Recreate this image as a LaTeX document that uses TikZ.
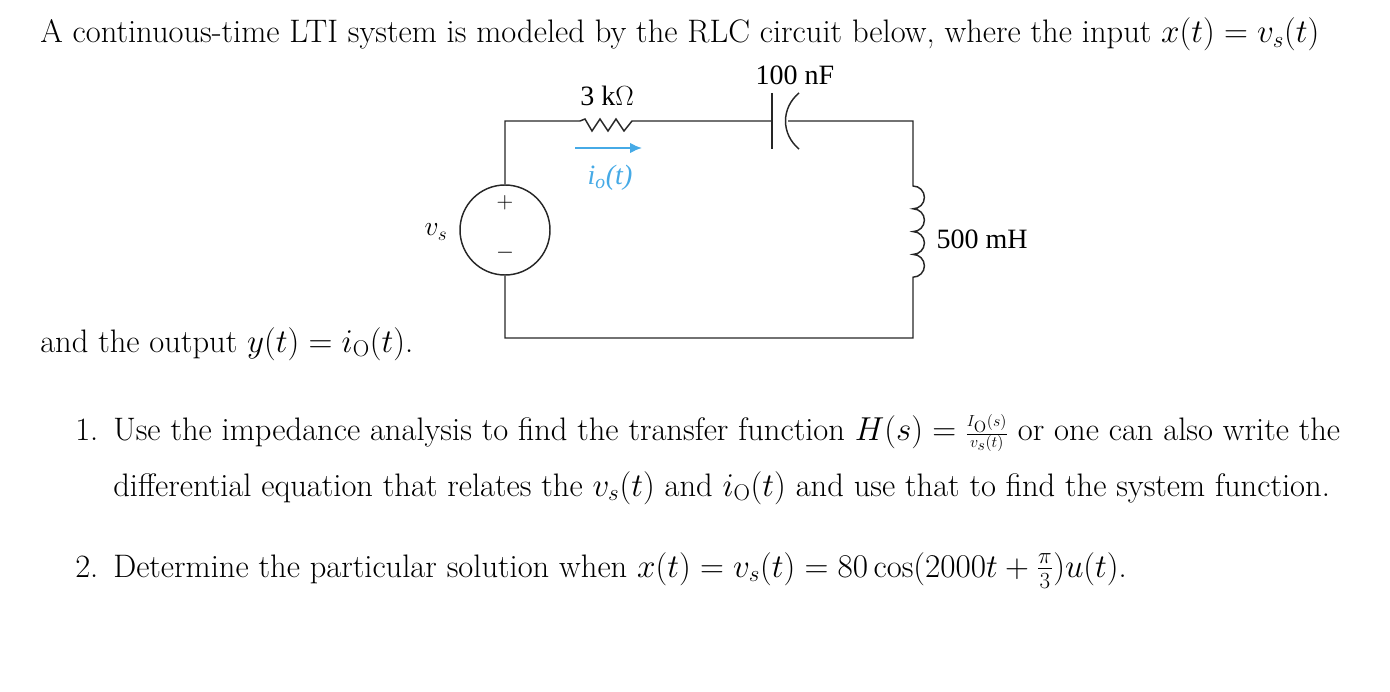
\documentclass[tikz,border=0pt]{standalone}
\usepackage{amsmath}
\usepackage{fontspec}
\usetikzlibrary{arrows.meta}
\newfontfamily\circfont{Liberation Serif}
\definecolor{curblue}{RGB}{70,170,230}
\begin{document}
\begin{tikzpicture}[x=0.75pt,y=-0.75pt,
  txt/.style={anchor=base west,inner sep=0,font=\fontsize{24.4}{28}\selectfont},
  clab/.style={font=\circfont\fontsize{21}{24}\selectfont,inner sep=0},
  wire/.style={line width=1.1pt,black!85}]
\useasboundingbox (0,0) rectangle (1390,692);
\node[txt] (l1) at (40,43) {A continuous-time LTI system is modeled by the RLC circuit below, where the input $x(t)=v_s(t)$};
\node[txt] (l2) at (40,352) {and the output $y(t)=i_{\mathrm{O}}(t)$.};
\node[txt] (n1) at (75,440) {1.};
\node[txt] (t1) at (113,440) {Use the impedance analysis to find the transfer function $H(s)=\genfrac{}{}{}{2}{I_{\mathrm{O}}(s)}{v_s(t)}$ or one can also write the};
\node[txt] (t1b) at (113,496) {differential equation that relates the $v_s(t)$ and $i_{\mathrm{O}}(t)$ and use that to find the system function.};
\node[txt] (n2) at (75,577) {2.};
\node[txt] (t2) at (113,577) {Determine the particular solution when $x(t)=v_s(t)=80\cos(2000t+\frac{\pi}{3})u(t)$.};
% circuit
\coordinate (tl) at (505,121);
\coordinate (tr) at (913,121);
\coordinate (bl) at (505,338);
\coordinate (br) at (913,338);
\node[draw,circle,wire,minimum size=67.5,inner sep=0] (src) at (505,230) {};
\node[font=\fontsize{18}{18}\selectfont,inner sep=0] (plus) at (505,203) {$+$};
\node[font=\fontsize{18}{18}\selectfont,inner sep=0] (minus) at (505,253) {$-$};
\coordinate (r1) at (580,121);
\coordinate (r2) at (642,121);
\coordinate (c1) at (772,121);
\coordinate (c2) at (788,121);
\coordinate (i1) at (913,186);
\draw[wire] (src.north) -- (tl) -- (r1)
  -- ++(5,-2) -- ++(7,12) -- ++(8,-12) -- ++(8,12) -- ++(8,-12) -- ++(8,12) -- ++(8,-10) -- (r2) -- (c1);
\draw[wire] (772,93) -- (772,149);
\draw[wire] (799,93) .. controls (781,108) and (781,134) .. (799,149);
\draw[wire] (c2) -- (tr) -- (i1)
  arc[start angle=-90,end angle=90,radius=11.4] arc[start angle=-90,end angle=90,radius=11.4] arc[start angle=-90,end angle=90,radius=11.4] arc[start angle=-90,end angle=90,radius=11.4]
  -- (br) -- (bl) -- (src.south);
\draw[curblue,line width=1.5pt,-{Latex[length=9pt,width=8pt]}] (575,148) -- (642,148);
\node[clab] (lr) at (607,96) {3 k$\Omega$};
\node[clab] (lc) at (795,75) {100 nF};
\node[clab] (li) at (982,239) {500 mH};
\node[clab,text=curblue] (lio) at (610,178) {\itshape i\textsubscript{o}(t)};
\node[font=\fontsize{20}{24}\selectfont,inner sep=0] (lv) at (436,232) {$v_s$};
\end{tikzpicture}
\end{document}
